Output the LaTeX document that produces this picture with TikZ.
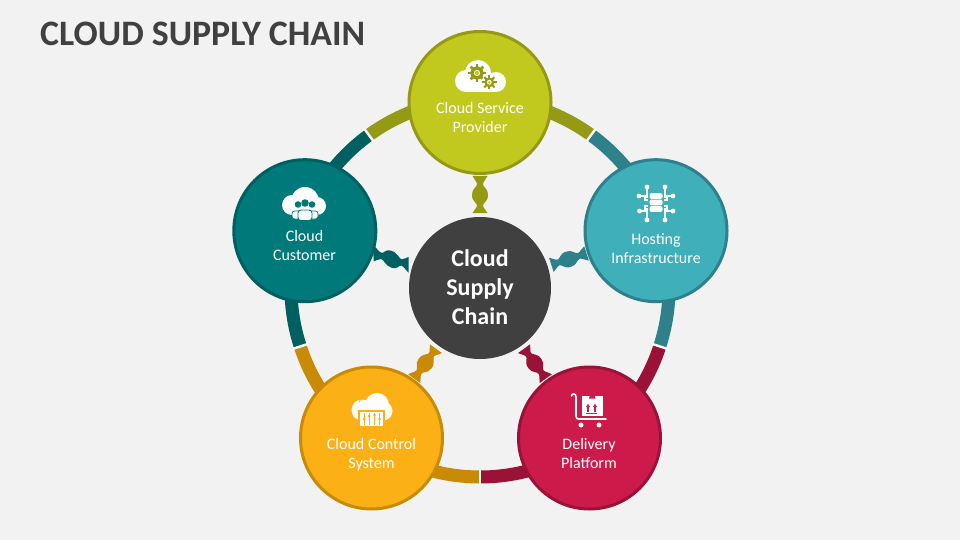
\documentclass[tikz,border=0pt]{standalone}
\usepackage{fontspec}
\usetikzlibrary{arrows.meta}
\setmainfont{Carlito}
\definecolor{bgc}{HTML}{F2F2F2}
\definecolor{grnF}{HTML}{C1C91F}\definecolor{grnD}{HTML}{959A15}
\definecolor{aquF}{HTML}{3FAFB9}\definecolor{aquD}{HTML}{2E808A}
\definecolor{crmF}{HTML}{CC1B4A}\definecolor{crmD}{HTML}{9A1238}
\definecolor{yelF}{HTML}{FBB116}\definecolor{yelD}{HTML}{C98A05}
\definecolor{teaF}{HTML}{00797B}\definecolor{teaD}{HTML}{005F60}
\definecolor{hubc}{HTML}{404040}
\tikzset{
  sat/.style={circle,minimum size=142pt,inner sep=0pt,outer sep=0pt,line width=3pt},
  satlabel/.style={text=white,font=\fontsize{16}{19}\selectfont,align=center,inner sep=0pt},
  ringarc/.style={line width=13pt},
  gapline/.style={white,line width=2.4pt},
  link/.pic={\fill[pic actions] (4,7.5) .. controls (6.5,6.5) and (9,3.2) .. (11.5,3)
     .. controls (14.5,3) and (15,8) .. (22.2,8) .. controls (29,8) and (29.5,3) .. (33,3)
     .. controls (35.5,3.2) and (38,6.5) .. (41,7.5) -- (41,-7.5)
     .. controls (38,-6.5) and (35.5,-3.2) .. (33,-3) .. controls (29.5,-3) and (29,-8) .. (22.2,-8)
     .. controls (15,-8) and (14.5,-3) .. (11.5,-3) .. controls (9,-3.2) and (6.5,-6.5) .. (4,-7.5) -- cycle;}
}
\begin{document}
\begin{tikzpicture}[x=1pt,y=-1pt]
\useasboundingbox[fill=bgc] (0,0) rectangle (960,540);
\node[anchor=base west,inner sep=0pt,text=hubc,font=\fontsize{35.8}{40}\selectfont\bfseries] (title) at (40,46) {CLOUD SUPPLY CHAIN};
\coordinate (hubc) at (480,288);
% ring
\draw[ringarc,grnD] (hubc) ++(-126:189) arc (-126:-54:189);
\draw[ringarc,aquD] (hubc) ++(-54:189) arc (-54:18:189);
\draw[ringarc,crmD] (hubc) ++(18:189) arc (18:90:189);
\draw[ringarc,yelD] (hubc) ++(90:189) arc (90:162:189);
\draw[ringarc,teaD] (hubc) ++(162:189) arc (162:234:189);
\foreach \a in {-54,18,90,162,234}{\draw[gapline] (hubc) ++(\a:181) -- ++(\a:16);}
% circles
\node[circle,minimum size=142pt,inner sep=0pt,outer sep=0pt,fill=hubc] (hub) at (hubc) {};
\node[text=white,align=center,inner sep=0pt,font=\fontsize{24}{29}\selectfont\bfseries] (hubt) at (480,287) {Cloud\\Supply\\Chain};
\node[sat,fill=grnF,draw=grnD] (csp) at (480,102.5) {};
\node[sat,fill=teaF,draw=teaD] (cus) at (304.8,230.7) {};
\node[sat,fill=aquF,draw=aquD] (hst) at (656,230.7) {};
\node[sat,fill=yelF,draw=yelD] (ccs) at (371.5,438) {};
\node[sat,fill=crmF,draw=crmD] (dlv) at (589.5,438) {};
% connectors
\pic[fill=grnD,rotate=90] at (hub.90) {link};
\pic[fill=teaD,rotate=162,xslant=-0.33] at (hub.162) {link};
\pic[fill=aquD,rotate=18] at (hub.18) {link};
\pic[fill=yelD,rotate=234] at (hub.234) {link};
\pic[fill=crmD,rotate=-54] at (hub.-54) {link};
% labels
\node[satlabel] (l1) at (480,117.5) {Cloud Service\\Provider};
\node[satlabel] (l2) at (304.5,245.5) {Cloud\\Customer};
\node[satlabel] (l3) at (656,248.5) {Hosting\\Infrastructure};
\node[satlabel] (l4) at (371.5,454.5) {Cloud Control\\System};
\node[satlabel] (l5) at (589,453.5) {Delivery\\Platform};
% icon: gears
\foreach \x/\y/\r in {466/81/11,478/73/13,496/82/10}{\fill[white] (\x,\y) circle[radius=\r];}
\fill[white] (466,78) rectangle (496,92);
\foreach \cx/\cy/\r/\h/\d in {477/73/6.6/3.1/2.1,489.3/82.3/4.9/2.4/1.6}{
  \fill[white] (\cx,\cy) circle[radius=\r+3];
  \fill[grnD] (\cx,\cy) circle[radius=\r];
  \foreach \t in {0,45,...,315}{\fill[grnD,shift={(\cx,\cy)},rotate=\t] (\r-1,-\d/1.5) rectangle (\r+2.3,\d/1.5);}
  \fill[white] (\cx,\cy) circle[radius=\h];
  \fill[grnF] (\cx,\cy) circle[radius=\h-1];
}
% icon: people cloud
\foreach \x/\y/\r in {292/205/10,305/201/14,317/206/9}{\fill[white] (\x,\y) circle[radius=\r];}
\fill[white] (292,208) rectangle (317,215);
\foreach \x/\y/\w/\t/\b in {298/204.5/6/211/219,312/204.5/6/211/219}{
  \fill[white,draw=teaF,line width=.8pt,rounded corners=2.5pt] (\x-\w,\b) -- (\x-\w,\t) -- (\x+\w,\t) -- (\x+\w,\b) -- cycle;
  \fill[teaF] (\x,\y) circle[radius=3.3];
}
\fill[white,draw=teaF,line width=.9pt,rounded corners=3pt] (298,220.5) -- (298,210) -- (312,210) -- (312,220.5) -- cycle;
\fill[teaF] (305,203) circle[radius=3.8];
% icon: database
\foreach \x/\y in {647/187,665/187,639/196,673/196,639.5/211,673/211,647/220,665/220}{\fill[white] (\x,\y) circle[radius=2.4];}
\draw[white,line width=1.3pt]
  (647,187) -- (647,198) (665,187) -- (665,198) (639,196) -- (645,196) -- (645,200) -- (648,200)
  (673,196) -- (667,196) -- (667,200) -- (664,200)
  (639.5,211) -- (645,211) -- (645,206) -- (648,206) (673,211) -- (667,211) -- (667,206) -- (664,206)
  (647,220) -- (647,208) (665,220) -- (665,208);
\foreach \y in {196,202.5,209}{\fill[white,rounded corners=2pt] (649.5,\y-2.9) rectangle (662.5,\y+2.9);}
% icon: control cloud
\foreach \x/\y/\r in {362/410/10.5,377/405/12,383/411/9.5}{\fill[white] (\x,\y) circle[radius=\r];}
\fill[white] (362,410) rectangle (383,420);
\draw[yelF,line width=.8pt] (359,402) arc (190:280:4.5) (366,399) arc (180:275:5.5);
\fill[yelF] (358,410) rectangle (385,427);
\fill[white] (360,411.5) rectangle (383,426);
\foreach \x/\k in {364/419,369/416,374.5/415,379.5/419}{\draw[yelF,line width=.8pt] (\x,413) -- (\x,425); \fill[yelF] (\x,\k) circle[radius=1.5];}
% icon: cart
\draw[white,line width=1.6pt,line cap=round,line join=round] (571.5,396) .. controls (572,393) and (576,393) .. (576,397) -- (576,416) .. controls (576,418.5) and (577,419) .. (579,419) -- (606,419);
\fill[white] (581.5,395.5) rectangle (602.5,416);
\fill[crmF] (590,395) -- (594.5,395) -- (595.5,398.5) -- (589,398.5) -- cycle;
\fill[white] (581,425) circle[radius=2.5];
\fill[white] (599,425) circle[radius=2.5];
\draw[crmF,line width=1.1pt,-{Latex[length=3.6pt,width=4.6pt]}] (588,411.5) -- (588,403.5);
\draw[crmF,line width=1.1pt,-{Latex[length=3.6pt,width=4.6pt]}] (595,411.5) -- (595,403.5);
\draw[crmF,line width=1.1pt] (586,413.7) -- (597,413.7);
\end{tikzpicture}
\end{document}
